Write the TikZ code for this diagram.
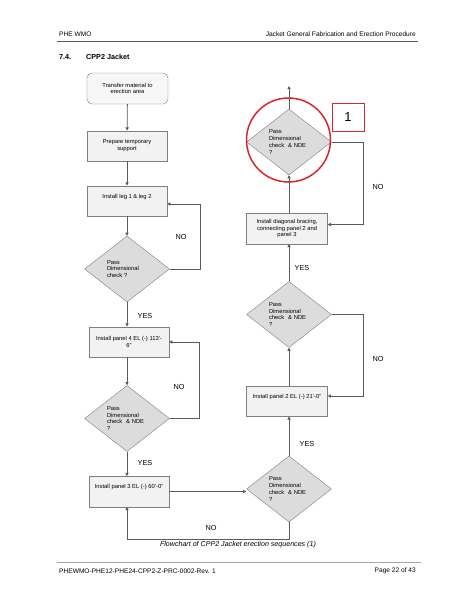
\documentclass[tikz,border=0pt]{standalone}
\usepackage{fontspec}
\setmainfont{Liberation Sans}
\usetikzlibrary{shapes.geometric,arrows.meta}
\definecolor{boxgray}{HTML}{F2F2F2}
\definecolor{startgray}{HTML}{F7F7F7}
\definecolor{diagray}{HTML}{DCDCDC}
\definecolor{framegray}{HTML}{7F7F7F}
\definecolor{linegray}{HTML}{5A5A5A}
\definecolor{markred}{HTML}{D9262C}
\begin{document}
\begin{tikzpicture}[x=1pt, y=-1pt,
  every node/.style={font=\fontsize{5.8}{6.8}\selectfont},
  procbox/.style={draw=framegray, fill=boxgray, minimum width=80pt, minimum height=30.5pt, align=center, inner sep=1pt},
  oneline/.style={text depth=10pt},
  decide/.style={draw=framegray, fill=diagray, diamond, shape aspect=1.3, minimum width=85pt, minimum height=66pt, inner sep=0pt, text width=40pt, align=left},
  flow/.style={draw=linegray, line width=0.8pt, -{Triangle[length=3.2pt,width=3.2pt]}},
  lbl/.style={font=\fontsize{7.3}{8}\selectfont},
  pagetext/.style={inner sep=0pt, font=\fontsize{6.6}{7.5}\selectfont}]
\useasboundingbox (0,0) rectangle (474,613);
% page header and footer
\node[pagetext, anchor=west] (hleft) at (59,34) {PHE WMO};
\node[pagetext, anchor=east] (hright) at (416,34) {Jacket General Fabrication and Erection Procedure};
\draw[linegray, line width=0.9pt] (57,41) -- (418,41);
\node[pagetext, anchor=west, font=\fontsize{7.2}{8}\selectfont\bfseries] (secnum) at (59,57) {7.4.};
\node[pagetext, anchor=west, font=\fontsize{7.2}{8}\selectfont\bfseries] (sectitle) at (86,57) {CPP2 Jacket};
\draw[gray!70, line width=1pt] (57,562) -- (421,562);
\node[pagetext, anchor=west] (fleft) at (59,571) {PHEWMO-PHE12-PHE24-CPP2-Z-PRC-0002-Rev. 1};
\node[pagetext, anchor=east] (fright) at (416,571) {Page 22 of 43};
\node[inner sep=0pt, font=\fontsize{7.1}{8}\selectfont\itshape] (caption) at (238,545) {Flowchart of CPP2 Jacket erection sequences (1)};
% left column
\node[procbox, fill=startgray, rounded corners=5pt, minimum width=81pt, minimum height=31pt] (start) at (127.5,88.5) {Transfer material to\\erection area};
\node[procbox] (prep) at (127,146) {Prepare temporary\\support};
\node[procbox, oneline] (leg) at (127,201) {Install leg 1 \& leg 2};
\node[decide] (d1) at (127,269) {Pass\\Dimensional\\check ?};
\node[procbox] (p4) at (129,342) {Install panel 4 EL (-) 113'-\\6"};
\node[decide] (d2) at (127,418.5) {Pass\\Dimensional\\check\ \ \& NDE\\?};
\node[procbox, oneline] (p3) at (129,491.5) {Install panel 3 EL (-) 60'-0"};
% right column
\node[decide] (d3) at (289,489) {Pass\\Dimensional\\check\ \ \& NDE\\?};
\node[procbox, oneline, minimum width=81pt] (p2) at (287,401) {Install panel 2 EL (-) 21'-0"};
\node[decide] (d4) at (289,314.5) {Pass\\Dimensional\\check\ \ \& NDE\\?};
\node[procbox, minimum width=81pt] (brace) at (287,228.5) {Install diagonal bracing,\\connecting panel 2 and\\panel 3};
\node[decide] (d5) at (289,142) {Pass\\Dimensional\\check\ \ \& NDE\\?};
\coordinate (top) at (289,86);
% connectors
\draw[flow] (start) -- (prep);
\draw[flow] (prep) -- (leg);
\draw[flow] (leg) -- (d1);
\draw[flow] (d1.east) -- (200,269) |- ([yshift=-3pt]leg.east);
\draw[flow] (d1.south) -- (d1.south |- p4.north);
\draw[flow] (p4.south -| d2.north) -- (d2.north);
\draw[flow] (d2.east) -- (199,418.5) |- (p4.east);
\draw[flow] (d2.south) -- (d2.south |- p3.north);
\draw[flow] (p3.east) -- (d3.west |- p3.east);
\draw[flow] (d3.south) -- (289,539) -| (d2.south |- p3.south);
\draw[flow] (d3.north) -- (d3.north |- p2.south);
\draw[flow] (p2.north -| d4.south) -- (d4.south);
\draw[flow] (d4.east) -- (363,314.5) |- ([yshift=5pt]p2.east);
\draw[flow] (d4.north) -- (d4.north |- brace.south);
\draw[flow] (brace.north -| d5.south) -- (d5.south);
\draw[flow] (d5.east) -- (363,142) |- ([yshift=4pt]brace.east);
\draw[flow] (d5.north) -- (top);
% branch labels
\node[lbl] (no1) at (181,237) {NO};
\node[lbl] (yes1) at (145,316) {YES};
\node[lbl] (no2) at (179,387) {NO};
\node[lbl] (yes2) at (145,463) {YES};
\node[lbl] (no3) at (211,528) {NO};
\node[lbl] (yes3) at (307,444) {YES};
\node[lbl] (no4) at (378,359) {NO};
\node[lbl] (yes4) at (302,268) {YES};
\node[lbl] (no5) at (378,187) {NO};
% markup
\draw[markred, line width=1.5pt] (288.5,140) circle (42);
\node[draw=markred, line width=1pt, minimum width=32pt, minimum height=28pt, inner sep=0pt, font=\fontsize{13}{14}\selectfont] (mark) at (348,117) {1};
\end{tikzpicture}
\end{document}
